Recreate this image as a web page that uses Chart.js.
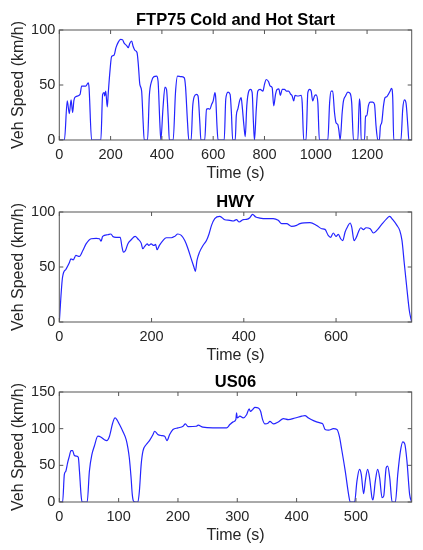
<!DOCTYPE html>
<html>
<head>
<meta charset="utf-8">
<script src="https://cdn.jsdelivr.net/npm/chart.js@4.4.1/dist/chart.umd.min.js"></script>
<style>
  body { margin: 0; background: #fff; }
  .box { position: absolute; left: 0; width: 423px; height: 183px; }
</style>
</head>
<body>
<div class="box" style="top:0px"><canvas id="ftp"></canvas></div>
<div class="box" style="top:182px"><canvas id="hwy"></canvas></div>
<div class="box" style="top:362px"><canvas id="us06"></canvas></div>
<script>
// FTP75
const ftpTime = [0,20,31,39,46,52,57,64,81,87,103,113,116,126,162,169,175,177,181,187,191,198,204,213,221,230,239,247,253,262,269,275,282,288,295,303,308,314,321,327,331,344,351,360,369,379,385,392,396,404,412,418,425,429,444,453,461,474,487,492,500,505,514,520,526,535,541,548,552,567,574,581,587,594,600,607,610,615,619,643,649,658,666,671,676,686,690,696,703,709,713,720,725,731,739,746,752,757,761,768,774,783,794,800,807,816,822,830,836,843,849,856,862,869,878,885,894,901,908,914,919,930,943,947,953,962,969,976,982,988,995,1001,1008,1014,1047,1054,1060,1066,1073,1079,1086,1090,1095,1103,1108,1116,1125,1134,1140,1147,1164,1170,1174,1177,1190,1194,1199,1205,1212,1222,1229,1235,1242,1248,1252,1257,1264,1270,1277,1283,1290,1295,1300,1304,1332,1339,1346,1352,1359,1363,1374];
const ftpSpeed = [0,0,35.5,24,36.4,25,36,39.4,41.5,49,49,52,47.5,0,0,41.5,43,40,44.5,30,43,64,76,77,84,89,91.5,91,88,86,84,88,90,85,81.5,79.5,69,50.6,44.5,15.7,0,0,40,53.6,57.6,58,53.6,15.7,0,28,48,46,19,0,0,43,58,57.6,56.6,49,15.7,0,0,30,39.4,41.5,40,15.7,0,0,28,28.5,28,32.4,35.5,43,38,12,0,0,37,43.6,41.5,25,0,0,21.8,28,35.5,38.5,31,12.7,3,31,44.5,46,43,15.7,0,28,44.5,46,44.5,50.6,55,53,49,47.5,31,41.5,46,46.4,40.5,46,46,44.5,44.5,42,40,35.5,40.5,40,40.5,34,0,0,43,46,44.5,35.5,40,41,34,0,0,34,44.5,44.5,25,15.7,14,9,0,25,35.5,40,43.6,42.4,34,0,0,37.3,28,0,0,21.8,22,31,34.5,34.5,32.4,12.7,0,0,12.7,15.7,31,38.5,39.4,41.5,44.5,47,38.5,0,0,28,36.4,33.4,12.7,0,0];

// HWY
const hwyTime = [0,7,14.5,22,25,30,36,43.5,51,58,69,80,87,90.6,94,105,112,116,123,132,136,139,143.5,148.5,156,164.5,170,177.5,181,185,190.6,194,199,205,208.7,212,217,224.6,232,243,250,257,264.5,272,279,286,292,295,298.5,304,311.6,319,324.6,330,337,348,358.7,369.6,376.8,384,390,398.6,405.8,413,419,426,434.8,449,463.8,474.6,482,492.8,503.6,514.5,521.7,543.5,558,568.8,576,583,588,594,600,605,610,614.5,619.6,625.4,630.4,634,639,643.5,648.5,653.6,659.4,665,674,681,688.4,699,710,716,723,732,738,743,748,754,759,764];
const hwySpeed = [0,40.7,48,54,57.4,56.5,60.5,59.6,65,71,75.7,76,75.7,73.5,77.8,79.3,80,77.8,77,77,68,63.5,65,71,74.8,77.8,75.7,71.7,66.6,68.7,71,69.6,71,69.6,70.5,65.7,69.6,74,76.6,76.6,77.8,80,78.7,74,66.6,57.4,49.8,46,56,63.5,69.6,74,80,87.8,94,96,93,92.4,91.8,93,90.9,93,93.3,94.8,97.9,95.4,94.5,94,94,92.4,89.4,89.4,87,87.8,89.4,90.3,87.8,84.8,84.2,78.7,77,80.9,77.8,79.6,75.7,74,81.8,87,90,86.3,74,76.6,81.8,85.7,83.9,85.7,84.8,80.9,83.3,88.8,94,96,93,87.8,83.3,74,52.9,28.6,10,0];

// US06
const usTime = [0,5.6,8.5,11,14,17,19.7,22.5,25,29,32,34,36.6,38.3,47,50.7,55,59,65,70.5,76,80,84.6,90,94,97,101.5,107,112.7,115.6,118,121,123,125,128.5,132.5,135,138,141,146.6,152,158,160.6,166,172,177.6,181.5,186,191.6,200,208.6,212.5,217,231,234,242,259,270.6,282,287.5,293,297.6,298.8,300,304.4,310,315.7,320,322,325.8,329.8,335.4,339.3,342.7,346.7,352.3,355,360.8,369,377.7,386,397.4,408.7,414,420,428.4,439.7,444,448,453.8,462,468,472,476,482,487.6,490.4,497.7,501.7,506,509,513,515.8,519.7,523,527,528.7,532.7,536.6,540,544,546.8,551,553.5,557,561,566.5,570.5,575,579,582.3,586,590.5,594];
const usSpeed = [0,0,37.6,42,53.5,62.5,70,70,64,62.5,61,42,10.4,0,0,42,64.8,76,89.7,88.4,85,83.8,89.7,107.8,114.6,112.4,105.6,96.5,85,73.9,60.3,33,10.4,1.4,0,0,15,51,69.3,78.4,83.8,92,96.5,92,90.6,89.7,83.8,92,98.8,101,103.3,106.5,102.9,103.3,104.7,102,101,101,101,105.6,109.2,112.4,121.4,114.6,117,114.6,119,126.9,123.7,126,129,128.2,123.7,112.4,106.5,107.8,110,106.5,109.2,113.7,112.4,114.6,117,117.8,114.6,111,107.8,106.5,98.8,97.9,100,98.8,89.7,71.6,42,10.4,0,0,28.5,44.4,37.6,11.3,28.5,44.4,33,5.9,2.7,28.5,44.4,33,5.9,8,46.7,48.9,33,0,0,37.6,69.3,82,79.3,55.7,10.4,0];

// tick labels
const ftpXTicks = [0,200,400,600,800,1000,1200];
const hwyXTicks = [0,200,400,600];
const usXTicks = [0,100,200,300,400,500];
const y100Ticks = [0,50,100];
const y150Ticks = [0,50,100,150];

const axisFont = "'Liberation Sans', Arial, sans-serif";
const textColor = '#262626';

// matlab style box with inward ticks
const boxTicks = {
  id: 'boxTicks',
  afterDraw(chart) {
    const {ctx, chartArea: a, scales: {x, y}} = chart;
    ctx.save();
    ctx.strokeStyle = '#555';
    ctx.lineWidth = 1;
    ctx.strokeRect(a.left, a.top, a.right - a.left, a.bottom - a.top);
    ctx.beginPath();
    x.ticks.forEach(t => {
      const p = x.getPixelForValue(t.value);
      ctx.moveTo(p, a.bottom); ctx.lineTo(p, a.bottom - 4);
      ctx.moveTo(p, a.top); ctx.lineTo(p, a.top + 4);
    });
    y.ticks.forEach(t => {
      const p = y.getPixelForValue(t.value);
      ctx.moveTo(a.left, p); ctx.lineTo(a.left + 4, p);
      ctx.moveTo(a.right, p); ctx.lineTo(a.right - 4, p);
    });
    ctx.stroke();
    ctx.restore();
  }
};

function makeChart(id, title, times, speeds, xMax, xTicks, yMax, yTicks) {
  return new Chart(document.getElementById(id), {
    type: 'line',
    data: {
      datasets: [{
        data: times.map((t, i) => ({x: t, y: speeds[i]})),
        borderColor: '#2424ff',
        borderWidth: 1.2,
        pointRadius: 0,
        cubicInterpolationMode: 'monotone',
        fill: false
      }]
    },
    options: {
      responsive: true,
      maintainAspectRatio: false,
      animation: false,
      layout: { padding: { left: 0, right: 11.3, top: 0, bottom: 0 } },
      plugins: {
        legend: { display: false },
        tooltip: { enabled: false },
        title: {
          display: true,
          text: title,
          fullSize: false,
          color: '#000',
          font: { family: axisFont, size: 16.5, weight: 'bold', lineHeight: 1.2 },
          padding: { top: 10.2, bottom: 0 }
        }
      },
      scales: {
        x: {
          type: 'linear',
          min: 0,
          max: xMax,
          grid: { display: false, drawTicks: false },
          border: { display: false },
          afterBuildTicks: s => { s.ticks = xTicks.map(v => ({value: v})); },
          afterFit: s => { s.height = 43; },
          ticks: {
            color: textColor,
            padding: 5.8,
            maxRotation: 0,
            callback: v => String(v),
            font: { family: axisFont, size: 14.5 }
          },
          title: {
            display: true,
            text: 'Time (s)',
            color: textColor,
            font: { family: axisFont, size: 16 },
            padding: { top: 0, bottom: 0 }
          }
        },
        y: {
          min: 0,
          max: yMax,
          grid: { display: false, drawTicks: false },
          border: { display: false },
          afterBuildTicks: s => { s.ticks = yTicks.map(v => ({value: v})); },
          afterFit: s => { s.width = 59.3; },
          ticks: {
            color: textColor,
            padding: 4,
            callback: v => String(v),
            font: { family: axisFont, size: 14.5 }
          },
          title: {
            display: true,
            text: 'Veh Speed (km/h)',
            color: textColor,
            font: { family: axisFont, size: 16 },
            padding: { top: 9, bottom: 0 }
          }
        }
      }
    },
    plugins: [boxTicks]
  });
}

makeChart('ftp', 'FTP75 Cold and Hot Start', ftpTime, ftpSpeed, 1374, ftpXTicks, 100, y100Ticks);
makeChart('hwy', 'HWY', hwyTime, hwySpeed, 764, hwyXTicks, 100, y100Ticks);
makeChart('us06', 'US06', usTime, usSpeed, 594, usXTicks, 150, y150Ticks);
</script>
</body>
</html>
